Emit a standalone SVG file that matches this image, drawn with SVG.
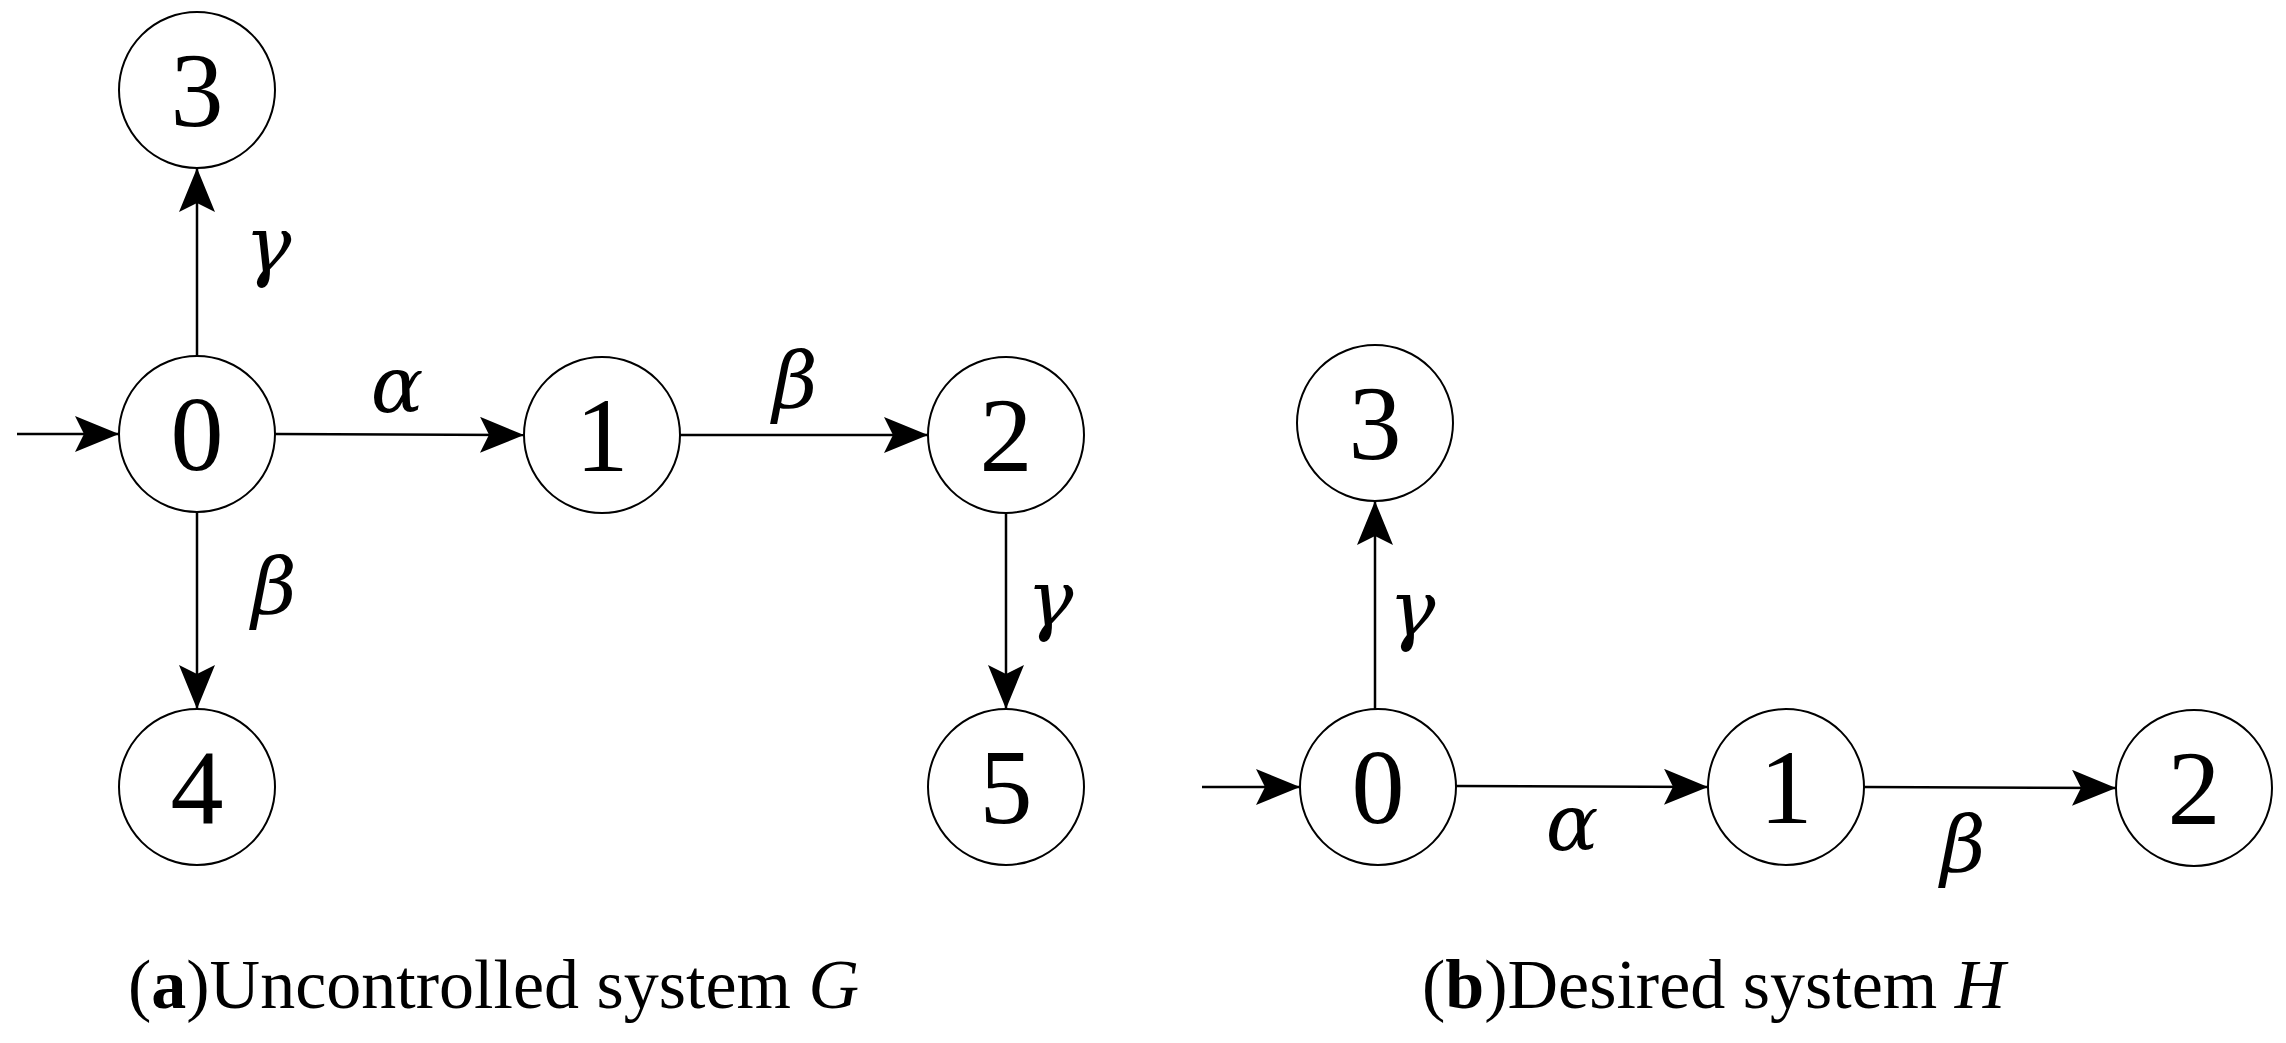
<svg xmlns="http://www.w3.org/2000/svg" width="2286" height="1043" viewBox="0 0 2286 1043">
<style>
circle{fill:#fff;stroke:#000;stroke-width:2}
.n{font-family:"Liberation Serif",serif;font-size:106px;text-anchor:middle}
.g{font-family:"DejaVu Serif",serif;font-style:italic;font-size:78px;text-anchor:middle}
.c{font-family:"Liberation Serif",serif;font-size:70px}
line{stroke:#000;stroke-width:2.5}
</style>
<defs><marker id="a" markerUnits="userSpaceOnUse" markerWidth="46" markerHeight="36" refX="44" refY="18" orient="auto"><path d="M0,0 L44,18 L0,36 L9,18 Z"/></marker></defs>
<rect width="2286" height="1043" fill="#fff"/>
<g id="connectors">
<line x1="17" y1="434" x2="119" y2="434" marker-end="url(#a)"/>
<line x1="197" y1="356" x2="197" y2="168" marker-end="url(#a)"/>
<line x1="197" y1="512" x2="197" y2="709" marker-end="url(#a)"/>
<line x1="275" y1="434" x2="524" y2="435" marker-end="url(#a)"/>
<line x1="680" y1="435" x2="928" y2="435" marker-end="url(#a)"/>
<line x1="1006" y1="512" x2="1006" y2="709" marker-end="url(#a)"/>
<line x1="1202" y1="787" x2="1300" y2="787" marker-end="url(#a)"/>
<line x1="1375" y1="709" x2="1375" y2="501" marker-end="url(#a)"/>
<line x1="1456" y1="786" x2="1708" y2="787" marker-end="url(#a)"/>
<line x1="1864" y1="787" x2="2116" y2="788" marker-end="url(#a)"/>
<text class="g" x="268" y="272">γ</text>
<text class="g" x="397" y="412">α</text>
<text class="g" x="795" y="408">β</text>
<text class="g" x="274" y="614">β</text>
<text class="g" x="1050" y="626">γ</text>
<text class="g" x="1412" y="636">γ</text>
<text class="g" x="1572" y="850">α</text>
<text class="g" x="1963" y="872">β</text>
</g>
<g id="a0"><circle cx="197" cy="434" r="78"/><text class="n" x="197" y="470">0</text></g>
<g id="a3"><circle cx="197" cy="90" r="78"/><text class="n" x="197" y="126">3</text></g>
<g id="a4"><circle cx="197" cy="787" r="78"/><text class="n" x="197" y="823">4</text></g>
<g id="a1"><circle cx="602" cy="435" r="78"/><text class="n" x="602" y="471">1</text></g>
<g id="a2"><circle cx="1006" cy="435" r="78"/><text class="n" x="1006" y="471">2</text></g>
<g id="a5"><circle cx="1006" cy="787" r="78"/><text class="n" x="1006" y="823">5</text></g>
<g id="b0"><circle cx="1378" cy="787" r="78"/><text class="n" x="1378" y="823">0</text></g>
<g id="b3"><circle cx="1375" cy="423" r="78"/><text class="n" x="1375" y="459">3</text></g>
<g id="b1"><circle cx="1786" cy="787" r="78"/><text class="n" x="1786" y="823">1</text></g>
<g id="b2"><circle cx="2194" cy="788" r="78"/><text class="n" x="2194" y="824">2</text></g>
<text class="c" x="128" y="1008">(<tspan font-weight="bold">a</tspan>)Uncontrolled system <tspan font-style="italic">G</tspan></text>
<text class="c" x="1422" y="1008">(<tspan font-weight="bold">b</tspan>)Desired system <tspan font-style="italic">H</tspan></text>
</svg>
